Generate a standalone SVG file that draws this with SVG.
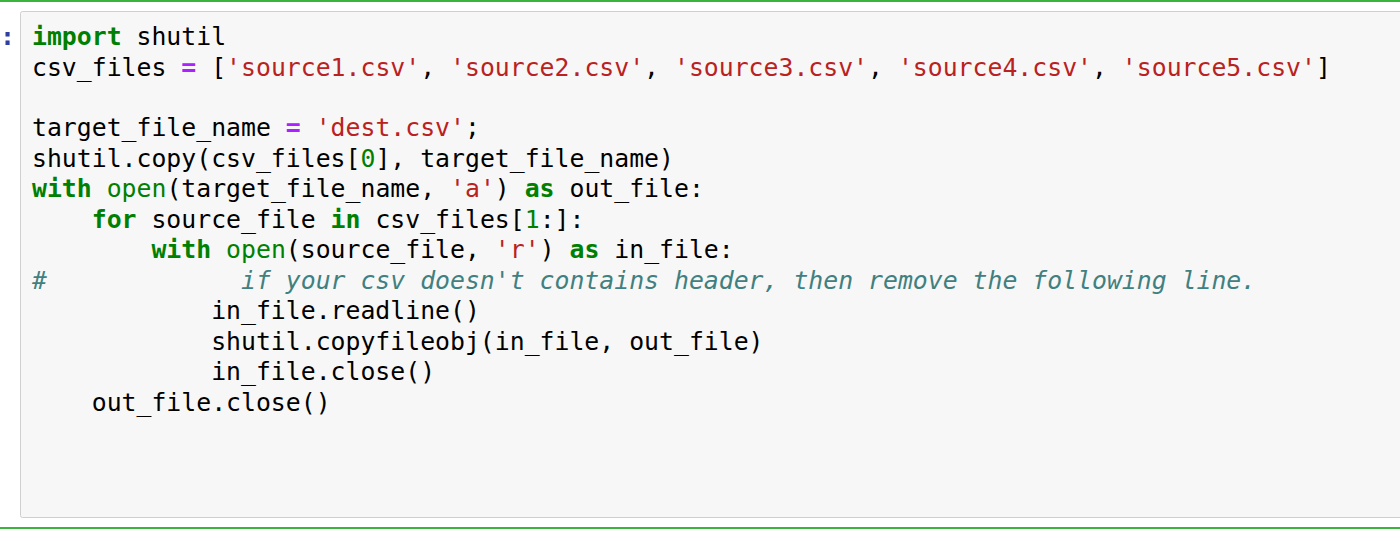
<svg xmlns="http://www.w3.org/2000/svg" width="1400" height="541" viewBox="0 0 1400 541">
<style>
text{font-family:"DejaVu Sans Mono","Liberation Mono",monospace;font-size:24.8px;fill:#000;white-space:pre}
.k{fill:#008000;font-weight:bold}
.b{fill:#008000}
.s{fill:#ba2121}
.o{fill:#aa22ff;font-weight:bold}
.n{fill:#008000}
.c{fill:#408080;font-style:italic}
</style>
<rect width="1400" height="541" fill="#fff"/>
<rect x="0" y="0" width="1400" height="2" fill="#3cb43c"/>
<rect x="0" y="527" width="1400" height="2" fill="#3cb43c"/>
<rect x="20.5" y="11.5" width="1390" height="506" rx="2" fill="#f7f7f7" stroke="#cfcfcf"/>
<text x="0" y="45" style="fill:#303f9f;font-weight:bold">:</text>
<g id="code" xml:space="preserve">
<text x="32" y="45"><tspan class="k">import</tspan> shutil</text>
<text x="32" y="76">csv_files <tspan class="o">=</tspan> [<tspan class="s">'source1.csv'</tspan>, <tspan class="s">'source2.csv'</tspan>, <tspan class="s">'source3.csv'</tspan>, <tspan class="s">'source4.csv'</tspan>, <tspan class="s">'source5.csv'</tspan>]</text>
<text x="32" y="136">target_file_name <tspan class="o">=</tspan> <tspan class="s">'dest.csv'</tspan>;</text>
<text x="32" y="167">shutil.copy(csv_files[<tspan class="n">0</tspan>], target_file_name)</text>
<text x="32" y="197"><tspan class="k">with</tspan> <tspan class="b">open</tspan>(target_file_name, <tspan class="s">'a'</tspan>) <tspan class="k">as</tspan> out_file:</text>
<text x="32" y="228">    <tspan class="k">for</tspan> source_file <tspan class="k">in</tspan> csv_files[<tspan class="n">1</tspan>:]:</text>
<text x="32" y="258">        <tspan class="k">with</tspan> <tspan class="b">open</tspan>(source_file, <tspan class="s">'r'</tspan>) <tspan class="k">as</tspan> in_file:</text>
<text x="32" y="289" class="c">#             if your csv doesn't contains header, then remove the following line.</text>
<text x="32" y="319">            in_file.readline()</text>
<text x="32" y="350">            shutil.copyfileobj(in_file, out_file)</text>
<text x="32" y="380">            in_file.close()</text>
<text x="32" y="411">    out_file.close()</text>
</g>
</svg>
